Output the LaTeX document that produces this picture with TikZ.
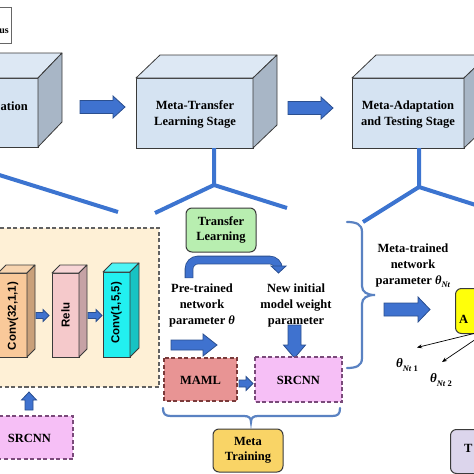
\documentclass[tikz,border=0pt]{standalone}
\usepackage{fontspec}
\setmainfont{Liberation Serif}
\setsansfont{Liberation Sans}
\usetikzlibrary{arrows.meta}
\definecolor{cubefront}{HTML}{D5E3F2}
\definecolor{cubetop}{HTML}{DDE8F4}
\definecolor{cubeside}{HTML}{A8B6C6}
\definecolor{edgecol}{HTML}{3A3A3A}
\definecolor{arrfill}{HTML}{3F72CF}
\definecolor{arredge}{HTML}{2B4F8F}
\definecolor{treeblue}{HTML}{3C74D0}
\definecolor{bracecol}{HTML}{5A82C2}
\definecolor{panelfill}{HTML}{FEF0D6}
\definecolor{orfront}{HTML}{F9C99A}
\definecolor{ortop}{HTML}{F7D4AF}
\definecolor{orside}{HTML}{C9A07A}
\definecolor{pkfront}{HTML}{F5C9CB}
\definecolor{pktop}{HTML}{F7D5D6}
\definecolor{pkside}{HTML}{C6A2A5}
\definecolor{cyfront}{HTML}{22F0F0}
\definecolor{cytop}{HTML}{4DF5F5}
\definecolor{cyside}{HTML}{17C3C3}
\definecolor{srfill}{HTML}{F6BFF6}
\definecolor{sredge}{HTML}{7A4A7A}
\definecolor{mafill}{HTML}{E89494}
\definecolor{maedge}{HTML}{7A3A3A}
\definecolor{tlfill}{HTML}{B8EEB0}
\definecolor{mtfill}{HTML}{F9D466}
\definecolor{yelfill}{HTML}{FFFF0A}
\definecolor{lavfill}{HTML}{DCD5EC}
\newcommand\prism[9]{%
  \filldraw[fill=#7,draw=edgecol,line width=0.8pt] (#1,#2) rectangle (#3,#4);
  \filldraw[fill=#8,draw=edgecol,line width=0.8pt,line join=round] (#1,#2) -- ({#1+#5},{#2-#6}) -- ({#3+#5},{#2-#6}) -- (#3,#2) -- cycle;
  \filldraw[fill=#9,draw=edgecol,line width=0.8pt,line join=round] (#3,#2) -- ({#3+#5},{#2-#6}) -- ({#3+#5},{#4-#6}) -- (#3,#4) -- cycle;}
% right block arrow: x1 x2 yc shafthalf headhalf headlen
\newcommand\rblock[6]{%
  \filldraw[blockarrow] (#1,{#3-#4}) -- ({#2-#6},{#3-#4}) -- ({#2-#6},{#3-#5}) -- (#2,#3) -- ({#2-#6},{#3+#5}) -- ({#2-#6},{#3+#4}) -- (#1,{#3+#4}) -- cycle;}
% vertical block arrow: xc ystart ytip shafthalf headhalf headlen(signed)
\newcommand\vblock[6]{%
  \filldraw[blockarrow] ({#1-#4},#2) -- ({#1-#4},{#3-#6}) -- ({#1-#5},{#3-#6}) -- (#1,#3) -- ({#1+#5},{#3-#6}) -- ({#1+#4},{#3-#6}) -- ({#1+#4},#2) -- cycle;}
\tikzset{
  blockarrow/.style={fill=arrfill,draw=arredge,line width=0.8pt,line join=miter},
  lbl/.style={font=\fontsize{12.5}{15.5}\selectfont\bfseries,align=center,inner sep=0pt},
  convtxt/.style={font=\fontsize{11.5}{13}\selectfont\sffamily\bfseries,rotate=90,inner sep=0pt},
  tree/.style={draw=treeblue,line width=4pt},
  bracestyle/.style={draw=bracecol,line width=2.2pt,line cap=round},
  dashbox/.style={dashed,line width=1.1pt,dash pattern=on 4pt off 2.5pt},
  roundbox/.style={draw=edgecol,line width=1pt,rounded corners=6pt},
  thinarr/.style={draw=black,line width=0.7pt,-{Stealth[length=5pt,width=4pt]}}
}
\begin{document}
\begin{tikzpicture}[x=1pt,y=-1pt]
\useasboundingbox (0,0) rectangle (474,474);
\clip (0,0) rectangle (474,474);
% top-left partial box
\draw[draw=gray!80!black,line width=0.8pt] (-30,7) rectangle (11,43);
\node[font=\fontsize{10}{11}\selectfont\bfseries,anchor=east,inner sep=0pt] (legend) at (9,31) {us};
% cubes
\prism{-70}{78}{38}{147}{24}{25}{cubefront}{cubetop}{cubeside}
\prism{136}{78}{253}{148}{24}{23}{cubefront}{cubetop}{cubeside}
\prism{352}{78}{464}{148}{24}{23}{cubefront}{cubetop}{cubeside}
\node[lbl,anchor=east] (c1) at (28,106) {ation};
\node[lbl] (c2) at (195,114.5) {Meta-Transfer\\Learning Stage};
\node[lbl] (c3) at (408,114.5) {Meta-Adaptation\\and Testing Stage};
% arrows between cubes
\rblock{80}{125}{107}{6.5}{11}{12}
\rblock{288}{333}{108}{6.5}{11}{12}
% tree connectors
\coordinate (jm) at (214,185);
\coordinate (jr) at (419,187);
\draw[tree] (214,148) -- (jm) -- (155,213);
\draw[tree] (jm) -- (287,208);
\draw[tree] (419,148) -- (jr) -- (363,222);
\draw[tree] (jr) -- (482,207);
\draw[tree] (-20,169) -- (118,212);
% left dashed panel
\filldraw[fill=panelfill,draw=edgecol!80,dashbox] (-5,228) rectangle (159,387);
\prism{-2}{273}{27}{357}{8}{8}{orfront}{ortop}{orside}
\prism{52}{273}{79}{357}{8}{8}{pkfront}{pktop}{pkside}
\prism{103}{272}{130}{357}{9}{9}{cyfront}{cytop}{cyside}
\node[convtxt] (conv1) at (13,316) {Conv(32,1,1)};
\node[convtxt] (relu) at (65.5,315) {Relu};
\node[convtxt] (conv2) at (116.5,313) {Conv(1,5,5)};
\rblock{36}{49}{315.5}{3}{6}{6}
\rblock{88}{102}{315.5}{3}{6}{6}
% bottom-left SRCNN
\vblock{29}{410}{392}{4}{7.5}{-8}
\filldraw[fill=srfill,draw=sredge,dashbox] (-5,416) rectangle (73,459);
\node[lbl] (sr1) at (29.5,438) {SRCNN};
% transfer learning
\node[roundbox,fill=tlfill,minimum width=70pt,minimum height=44pt,lbl] (tl) at (221,230) {Transfer\\Learning};
\draw[arredge,line width=8.6pt,rounded corners=9pt] (189,278) -- (189,260) -- (278.5,260) -- (278.5,267);
\draw[arrfill,line width=7pt,rounded corners=9pt] (189,277.5) -- (189,260) -- (278.5,260) -- (278.5,267.5);
\filldraw[blockarrow] (271,266) -- (286,266) -- (278.5,273) -- cycle;
\node[lbl,font=\fontsize{12.5}{16}\selectfont\bfseries] (pre) at (202,305) {Pre-trained\\network\\parameter \textit{θ}};
\node[lbl,font=\fontsize{12.5}{16}\selectfont\bfseries] (new) at (296,305) {New initial\\model weight\\parameter};
\rblock{171}{217}{345}{5}{11}{14}
\vblock{294.5}{325}{358}{6.5}{11}{13}
% MAML / SRCNN
\filldraw[fill=mafill,draw=maedge,dashbox] (164,358) rectangle (237,401);
\node[lbl] (maml) at (200.5,380) {MAML};
\filldraw[fill=srfill,draw=sredge,dashbox] (255,357) rectangle (342,402);
\node[lbl] (sr2) at (298.5,380) {SRCNN};
\rblock{239}{253}{383.5}{3.5}{7}{7}
% bottom brace
\draw[bracestyle] (163,408) .. controls (163,414) and (165,416) .. (171,416) -- (244,416) .. controls (249,416) and (251,418) .. (251,422) .. controls (251,418) and (253,416) .. (258,416) -- (332,416) .. controls (338,416) and (340,414) .. (340,408);
\node[roundbox,fill=mtfill,minimum width=70pt,minimum height=43pt,lbl] (mt) at (248,450.5) {Meta\\Training};
% right brace
\draw[bracestyle] (347,222) .. controls (356,222) and (362,224) .. (362,232) -- (362,286) .. controls (362,292) and (367,295) .. (375,295) .. controls (367,295) and (362,298) .. (362,304) -- (362,358) .. controls (362,366) and (356,368) .. (347,368);
\node[lbl,font=\fontsize{12.5}{16}\selectfont\bfseries] (mtr) at (413,266) {Meta-trained\\network\\parameter \textit{θ}\raisebox{-0.5ex}{\fontsize{8.5}{9}\selectfont\textit{Nt}}};
\rblock{384}{430}{309.5}{6.5}{12.5}{12}
% adaptation box (partial)
\node[roundbox,fill=yelfill,minimum width=70pt,minimum height=45pt,anchor=west] (adapt) at (455,311) {};
\node[lbl,anchor=west] (adtxt) at (459,319) {A};
\coordinate (o1) at (476,333);
\coordinate (o2) at (476,339);
\draw[thinarr] (o1) -- (417,347.5);
\draw[thinarr] (o2) -- (442,362);
\node[inner sep=0pt,font=\fontsize{13}{14}\selectfont\bfseries] (t1) at (407,365) {\textit{θ}\raisebox{-0.7ex}{\fontsize{8.5}{9}\selectfont\textit{Nt} 1}};
\node[inner sep=0pt,font=\fontsize{13}{14}\selectfont\bfseries] (t2) at (441,380) {\textit{θ}\raisebox{-0.7ex}{\fontsize{8.5}{9}\selectfont\textit{Nt} 2}};
% bottom-right partial box
\node[roundbox,fill=lavfill,minimum width=60pt,minimum height=44pt,anchor=north west] (test) at (450,429) {};
\node[lbl,anchor=west] (tt) at (464,448) {T};
\end{tikzpicture}
\end{document}
